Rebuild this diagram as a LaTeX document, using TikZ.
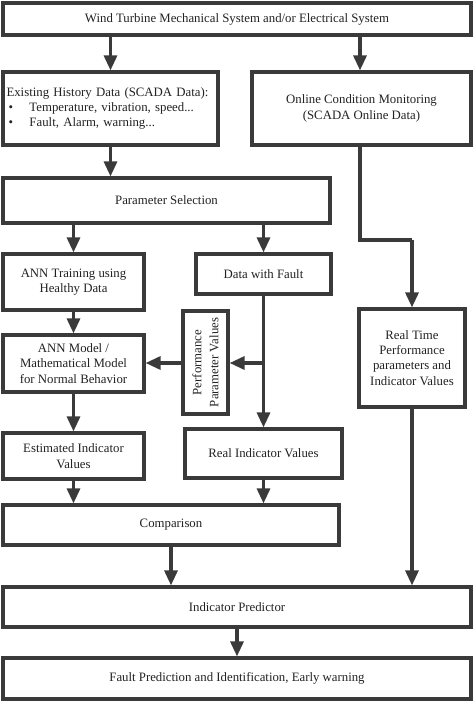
\documentclass[tikz,border=0pt]{standalone}
\usepackage{fontspec}
\setmainfont{Liberation Serif}
\usetikzlibrary{arrows.meta}
\definecolor{ln}{HTML}{3A3A3A}
\definecolor{tx}{HTML}{222222}
\begin{document}
\begin{tikzpicture}[x=1pt,y=-1pt,
  box/.style={draw=ln,line width=3.2pt,fill=white,inner sep=2pt,align=center,text=tx,
    font=\fontsize{12.8}{15.3}\selectfont},
  arr/.style={draw=ln,line width=3.2pt,-{Triangle[length=15pt,width=13pt]}},
  ln/.style={draw=ln,line width=3.2pt}]
\useasboundingbox (0,0) rectangle (474,702);
\node[box,minimum width=468pt,minimum height=32pt] (top) at (237,19) {Wind Turbine Mechanical System and/or Electrical System};
\node[box,minimum width=215pt,minimum height=73pt,text width=208pt,inner xsep=3.5pt,align=left] (hist) at (110.5,108.5)
 {Existing History Data (SCADA Data):\\\makebox[23pt][l]{\hspace{2pt}•}Temperature, vibration, speed...\\\makebox[23pt][l]{\hspace{2pt}•}Fault, Alarm, warning...};
\node[box,minimum width=219pt,minimum height=73pt] (online) at (361.5,108.5) {Online Condition Monitoring\\(SCADA Online Data)};
\node[box,minimum width=327pt,minimum height=45pt] (param) at (166.5,200.5) {Parameter Selection};
\node[box,minimum width=141pt,minimum height=56pt] (train) at (73.5,282) {ANN Training using\\Healthy Data};
\node[box,minimum width=135pt,minimum height=40pt] (fault) at (263.5,274) {Data with Fault};
\node[box,minimum width=141pt,minimum height=57pt] (model) at (73.5,363.5) {ANN Model /\\Mathematical Model\\for Normal Behavior};
\node[box,minimum width=45pt,minimum height=103pt] (perf) at (205.5,362.5) {};
\node[text=tx,font=\fontsize{12.8}{17}\selectfont,align=center,rotate=90] (perftext) at (perf.center) {Performance\\Parameter Values};
\node[box,minimum width=106pt,minimum height=98pt] (realtime) at (412,358) {Real Time\\Performance\\parameters and\\Indicator Values};
\node[box,minimum width=141pt,minimum height=46pt] (est) at (73.5,456) {Estimated Indicator\\Values};
\node[box,minimum width=157pt,minimum height=49pt] (realind) at (263.5,453.5) {Real Indicator Values};
\node[box,minimum width=336pt,minimum height=40pt] (comp) at (171,525) {Comparison};
\node[box,minimum width=468pt,minimum height=40pt] (pred) at (237,607) {Indicator Predictor};
\node[box,minimum width=468pt,minimum height=41pt] (out) at (237,678.5) {Fault Prediction and Identification, Early warning};
\coordinate (b1) at (360,240);
\coordinate (b2) at (412,240);
\coordinate (j) at (263.5,363);
\draw[arr] (top.south -| hist.north) -- (hist.north);
\draw[arr] (top.south -| b1) -- (online.north -| b1);
\draw[ln] (online.south -| b1) -- (b1) -- (b2);
\draw[arr] (b2) -- (realtime.north);
\draw[arr] (hist.south) -- (param.north -| hist.south);
\draw[arr] (param.south -| train.north) -- (train.north);
\draw[arr] (param.south -| fault.north) -- (fault.north);
\draw[arr] (train.south) -- (model.north);
\draw[arr] (fault.south) -- (realind.north);
\draw[arr] (j) -- (perf.east |- j);
\draw[arr] (perf.west |- j) -- (model.east |- j);
\draw[arr] (model.south) -- (est.north);
\draw[arr] (est.south) -- (comp.north -| est.south);
\draw[arr] (realind.south) -- (comp.north -| realind.south);
\draw[arr] (comp.south) -- (pred.north -| comp.south);
\draw[arr] (realtime.south) -- (pred.north -| realtime.south);
\draw[arr] (pred.south) -- (out.north);
\end{tikzpicture}
\end{document}
